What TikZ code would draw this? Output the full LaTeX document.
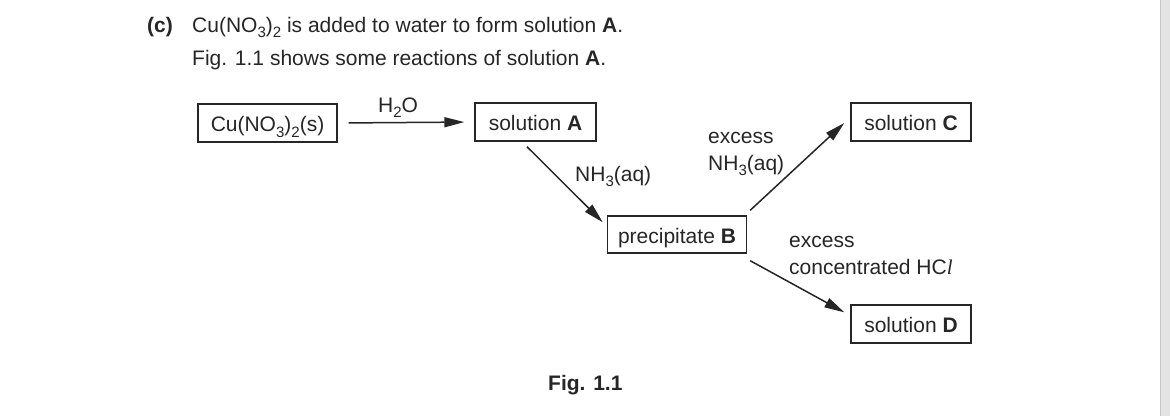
\documentclass[tikz,border=0pt]{standalone}
\usepackage{fontspec}
\setmainfont{Liberation Sans}
\newfontfamily\lserif{Liberation Serif}
\usetikzlibrary{arrows.meta}
\definecolor{ink}{HTML}{262626}
\newcommand\chsub[1]{\raisebox{-5.5pt}{\fontsize{15}{15}\selectfont #1}}
\begin{document}
\begin{tikzpicture}[x=1pt,y=-1pt,
  every node/.style={font=\fontsize{21}{26.5}\selectfont, text=ink, inner sep=0pt},
  chembox/.style={draw=ink, line width=1.4pt, minimum height=38pt, text height=17.5pt, text depth=0pt, align=center},
  lbl/.style={anchor=base west, align=left},
  react/.style={draw=ink, line width=1.5pt, -{Triangle[length=20pt,width=10pt]}}]
\useasboundingbox[fill=white] (0,0) rectangle (1170,416);
\fill[gray!22] (1160,0) rectangle (1170,416);
\draw[gray!45, line width=1pt] (1160.5,0) -- (1160.5,416);
% heading
\node[lbl] (partc) at (147,32) {\textbf{(c)}};
\node[lbl] (line1) at (192,32) {Cu(NO\chsub{3})\chsub{2} is added to water to form solution \textbf{A}.};
\node[lbl] (line2) at (192,65) {Fig. 1.1 shows some reactions of solution \textbf{A}.};
% boxes
\node[chembox, minimum width=139pt] (cu) at (267.5,123) {Cu(NO\chsub{3})\chsub{2}(s)};
\node[chembox, minimum width=121pt] (a) at (535.5,122) {solution \textbf{A}};
\node[chembox, minimum width=139pt, minimum height=37pt] (b) at (677,234.5) {precipitate \textbf{B}};
\node[chembox, minimum width=120pt] (c) at (911,122) {solution \textbf{C}};
\node[chembox, minimum width=120pt] (d) at (911,324) {solution \textbf{D}};
% arrows
\draw[react, shorten <=11pt, shorten >=10pt] (cu.east) -- (a.west);
\draw[react] ([xshift=-8.5pt,yshift=-5pt]a.south) -- ([xshift=-4pt,yshift=-7pt]b.north west);
\draw[react] ([xshift=3pt,yshift=5pt]b.north east) -- ([xshift=-6pt,yshift=-1pt]c.west);
\draw[react] ([xshift=3pt,yshift=-7pt]b.south east) -- ([xshift=-6pt,yshift=-8pt]d.north west);
% labels
\node[lbl] (h2o) at (378,112) {H\chsub{2}O};
\node[lbl] (nh3) at (575,181) {NH\chsub{3}(aq)};
\node[lbl] (exnh3) at (708,170) {excess\\NH\chsub{3}(aq)};
\node[lbl] (exhcl) at (789,274) {excess\\concentrated HC{\lserif\itshape l}};
\node[lbl] (fig) at (548,390) {\textbf{Fig. 1.1}};
\end{tikzpicture}
\end{document}
